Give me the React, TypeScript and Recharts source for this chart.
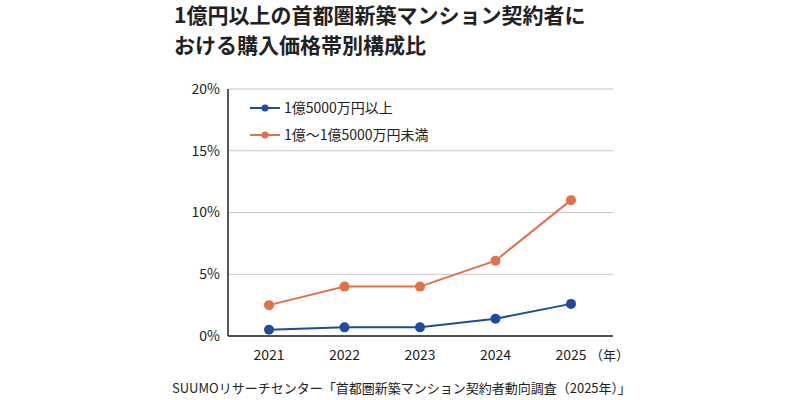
import { LineChart, Line, XAxis, YAxis, CartesianGrid } from 'recharts';

const years = ['2021', '2022', '2023', '2024', '2025'];
const over150m = [0.5, 0.7, 0.7, 1.4, 2.6];
const from100to150m = [2.5, 4.0, 4.0, 6.1, 11.0];
const yTicks = [0, 5, 10, 15, 20];

const BLUE = '#1f4b9e';
const ORANGE = '#e2714b';
const FONT = '"Noto Sans CJK JP", "Noto Sans", sans-serif';

const seriesInfo = [
  { key: 'high', name: '1億5000万円以上', color: BLUE },
  { key: 'mid', name: '1億〜1億5000万円未満', color: ORANGE },
];

const chartData = years.map((y, i) => ({
  year: y,
  high: over150m[i],
  mid: from100to150m[i],
}));

function LegendBox() {
  return (
    <svg width={200} height={60} style={{ position: 'absolute', left: 250, top: 98 }}>
      {seriesInfo.map((s, i) => (
        <g key={s.key} transform={`translate(0, ${10 + i * 27})`}>
          <line x1={0} x2={30} y1={0} y2={0} stroke={s.color} strokeWidth={2} />
          <circle cx={15} cy={0} r={3.5} fill={s.color} />
          <text x={34} y={5} fontSize={14} fill="#222" fontFamily={FONT}>{s.name}</text>
        </g>
      ))}
    </svg>
  );
}

function YearTick(props: any) {
  const { x, y, payload, index } = props;
  const last = index === years.length - 1;
  return (
    <g>
      <text x={x} y={y + 16} textAnchor="middle" fontSize={14} fill="#222" fontFamily={FONT}>
        {payload.value}
      </text>
      {last && (
        <text x={x + 19} y={y + 16} textAnchor="start" fontSize={13} fill="#222" fontFamily={FONT}>
          （年）
        </text>
      )}
    </g>
  );
}

export default function App() {
  return (
    <div style={{ position: 'absolute', left: 0, top: 0, width: 800, height: 400, background: '#fff', fontFamily: FONT }}>
      <div style={{ position: 'absolute', left: 174, top: -1, fontSize: 21, fontWeight: 700, lineHeight: '30px', color: '#222' }}>
        1億円以上の首都圏新築マンション契約者に<br />
        おける購入価格帯別構成比
      </div>
      <LineChart
        width={800}
        height={400}
        data={chartData}
        margin={{ top: 89, right: 187, bottom: 34, left: 168 }}
      >
        <CartesianGrid vertical={false} stroke="#c8c8c8" strokeWidth={1.2} />
        <XAxis
          dataKey="year"
          axisLine={{ stroke: '#222', strokeWidth: 1.5 }}
          tickLine={false}
          interval={0}
          padding={{ left: 41, right: 42 }}
          height={30}
          tick={<YearTick />}
        />
        <YAxis
          domain={[0, 20]}
          ticks={yTicks}
          interval={0}
          tickFormatter={(v: number) => `${v}%`}
          axisLine={{ stroke: '#222', strokeWidth: 1.5 }}
          tickLine={false}
          width={60}
          tick={{ fontSize: 14, fill: '#222', fontFamily: FONT }}
        />
        <Line
          dataKey="high"
          name={seriesInfo[0].name}
          stroke={BLUE}
          strokeWidth={2}
          dot={{ r: 5, fill: BLUE, stroke: BLUE, strokeWidth: 0 }}
          isAnimationActive={false}
        />
        <Line
          dataKey="mid"
          name={seriesInfo[1].name}
          stroke={ORANGE}
          strokeWidth={2}
          dot={{ r: 5, fill: ORANGE, stroke: ORANGE, strokeWidth: 0 }}
          isAnimationActive={false}
        />
      </LineChart>
      <LegendBox />
      <div style={{ position: 'absolute', left: 172, top: 378, fontSize: 13, color: '#222', whiteSpace: 'nowrap' }}>
        SUUMOリサーチセンター「首都圏新築マンション契約者動向調査（2025年）」
      </div>
    </div>
  );
}
